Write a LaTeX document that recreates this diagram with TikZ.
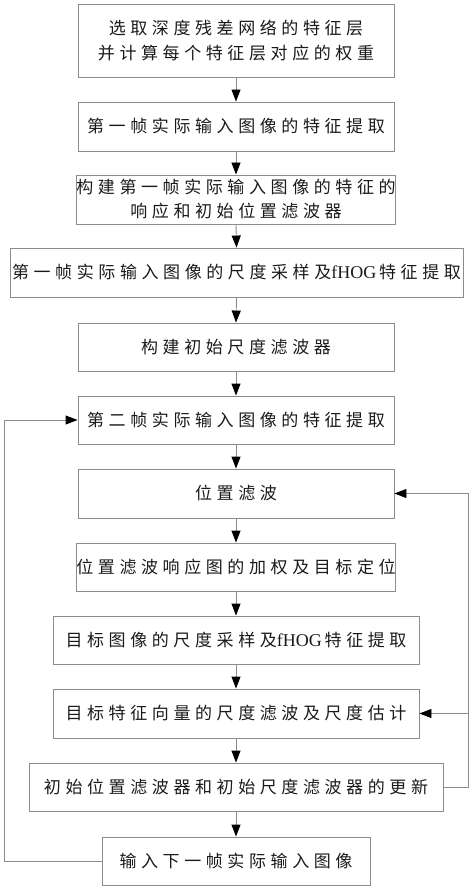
\documentclass[tikz,border=0pt]{standalone}
\usepackage{fontspec}
\setmainfont{Noto Sans CJK SC}[LetterSpace=27]
\newfontfamily\latf{Liberation Serif}
\usetikzlibrary{arrows.meta}
\definecolor{boxgray}{HTML}{8C8C8C}
\definecolor{txt}{HTML}{1A1A1A}
\tikzset{
  stepbox/.style={draw=boxgray, line width=0.9pt, rectangle, inner sep=0pt,
    text=txt, font=\fontsize{17}{25}\selectfont, align=center},
  conn/.style={draw=boxgray, line width=0.9pt,
    -{Triangle[length=12pt,width=9pt,color=black]}},
  plain/.style={draw=boxgray, line width=0.9pt}
}
\begin{document}
\begin{tikzpicture}[x=1pt,y=-1pt]
\useasboundingbox (0,0) rectangle (474,890);
\node[stepbox, minimum width=316pt, minimum height=73pt] (b1) at (236,40.5) {选取深度残差网络的特征层\\并计算每个特征层对应的权重};
\node[stepbox, minimum width=316pt, minimum height=49pt] (b2) at (236,126.5) {第一帧实际输入图像的特征提取};
\node[stepbox, minimum width=316pt, minimum height=49pt, font=\fontsize{17}{24}\selectfont] (b3) at (236,199.5) {构建第一帧实际输入图像的特征的\\响应和初始位置滤波器};
\node[stepbox, minimum width=453pt, minimum height=49pt] (b4) at (236.5,272.5) {第一帧实际输入图像的尺度采样及{\latf\fontsize{18}{25}\selectfont fHOG}\,特征提取};
\node[stepbox, minimum width=316pt, minimum height=48pt] (b5) at (236,347) {构建初始尺度滤波器};
\node[stepbox, minimum width=316pt, minimum height=48pt] (b6) at (236,420) {第二帧实际输入图像的特征提取};
\node[stepbox, minimum width=316pt, minimum height=49pt] (b7) at (236,493.5) {位置滤波};
\node[stepbox, minimum width=316pt, minimum height=48pt] (b8) at (236,567) {位置滤波响应图的加权及目标定位};
\node[stepbox, minimum width=366pt, minimum height=48pt] (b9) at (236,640) {目标图像的尺度采样及{\latf\fontsize{18}{25}\selectfont fHOG}\,特征提取};
\node[stepbox, minimum width=366pt, minimum height=49pt] (b10) at (236,713.5) {目标特征向量的尺度滤波及尺度估计};
\node[stepbox, minimum width=414pt, minimum height=48pt] (b11) at (236,787) {初始位置滤波器和初始尺度滤波器的更新};
\node[stepbox, minimum width=268pt, minimum height=48pt] (b12) at (236,861) {输入下一帧实际输入图像};
\foreach \a/\b in {b1/b2,b2/b3,b3/b4,b4/b5,b5/b6,b6/b7,b7/b8,b8/b9,b9/b10,b10/b11,b11/b12}
  \draw[conn] (\a.south) -- (\b.north);
\coordinate (L1) at (4,861);
\coordinate (L2) at (4,420);
\draw[conn] (b12.west) -- (L1) -- (L2) -- (b6.west);
\coordinate (R1) at (468,787);
\coordinate (R2) at (468,493.5);
\coordinate (R3) at (468,713.5);
\draw[conn] (b11.east) -- (R1) -- (R2) -- (b7.east);
\draw[conn] (R3) -- (b10.east);
\end{tikzpicture}
\end{document}
